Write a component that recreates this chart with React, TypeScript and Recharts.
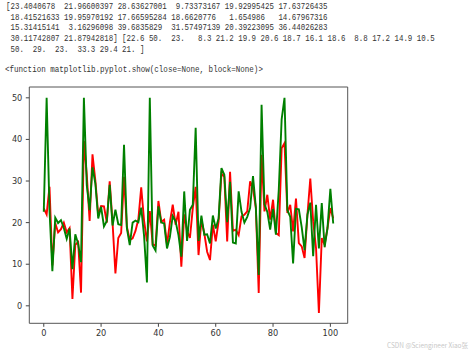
import React from "react";
import { LineChart, Line, XAxis, YAxis, ReferenceArea } from "recharts";

const predicted: number[] = [
  23.4040678, 21.96600397, 28.63627001, 9.73373167, 19.92995425, 17.63726435,
  18.41521633, 19.95970192, 17.66595284, 18.6620776, 1.654986, 14.67967316,
  15.31415141, 3.16296098, 39.6835829, 31.57497139, 20.39223095, 36.44026283,
  30.11742807, 21.87942818,
  24.0, 23.9, 20.0, 29.9, 20.0, 7.8, 16.3, 17.5, 31.0, 19.0,
  15.8, 16.2, 18.0, 20.8, 28.5, 20.5, 15.5, 22.8, 14.8, 14.5,
  25.2, 20.2, 20.7, 14.7, 20.0, 24.3, 19.5, 22.6, 9.4, 22.0,
  18.0, 16.3, 23.5, 28.6, 12.2, 20.5, 17.5, 13.0, 11.0, 19.5,
  15.5, 20.3, 31.8, 31.0, 15.5, 32.2, 18.0, 18.3, 17.0, 21.5,
  21.9, 22.7, 29.9, 28.3, 23.5, 3.1, 36.3, 22.7, 26.7, 20.7,
  25.5, 17.5, 17.0, 37.9, 39.1, 22.3, 24.3, 17.9, 25.8, 15.1,
  14.3, 11.5, 21.9, 30.6, 20.3, 13.9, -1.7, 16.3, 14.7, 18.7,
  23.5, 21.0,
];

const actual: number[] = [
  22.6, 50, 23, 8.3, 21.2, 19.9, 20.6, 18.7, 16.1, 18.6,
  8.8, 17.2, 14.9, 10.5, 50, 29, 23, 33.3, 29.4, 21,
  23.8, 19.1, 20.4, 29.1, 19.3, 23.1, 19.6, 19.4, 38.7, 18.7,
  14.6, 20, 20.5, 20.1, 23.6, 16.8, 5.6, 50, 14.5, 13.3,
  23.9, 20, 19.8, 13.8, 16.5, 21.6, 20.3, 17, 11.8, 27.5,
  15.6, 23.1, 24.3, 42.8, 15.6, 21.7, 17.1, 17.2, 15, 21.7,
  18.6, 21, 33.1, 31.5, 20.1, 29.8, 15.2, 15, 27.5, 22.6,
  20, 21.4, 23.5, 31.2, 23.7, 7.4, 48.3, 24.4, 22.6, 18.3,
  23.3, 17.1, 27.9, 44.8, 50, 23, 21.4, 10.2, 23.3, 23.2,
  18.9, 13.4, 21.9, 24.8, 11.9, 24.3, 13.8, 24.7, 14.1, 18.7,
  28.1, 19.8,
];

const xTicks: number[] = [0, 20, 40, 60, 80, 100];
const yTicks: number[] = [0, 10, 20, 30, 40, 50];

const outputLines: string[] = [
  "[23.4040678  21.96600397 28.63627001  9.73373167 19.92995425 17.63726435",
  " 18.41521633 19.95970192 17.66595284 18.6620776   1.654986   14.67967316",
  " 15.31415141  3.16296098 39.6835829  31.57497139 20.39223095 36.44026283",
  " 30.11742807 21.87942818] [22.6 50.  23.   8.3 21.2 19.9 20.6 18.7 16.1 18.6  8.8 17.2 14.9 10.5",
  " 50.  29.  23.  33.3 29.4 21. ]",
];
const reprLine = "<function matplotlib.pyplot.show(close=None, block=None)>";
const watermark = "CSDN @Sciengineer Xiao张";

const data = actual.map((g, i) => ({ i, red: predicted[i], green: g }));

const CW = 4.47;
const FS = CW / 0.6;
const SY = 1.2;
const X_DOMAIN: [number, number] = [-5.05, 106.05];
const Y_DOMAIN: [number, number] = [-4.2, 52.6];

export default function App() {
  const baselines = [9, 19.7, 30.4, 41.1, 51.8];
  return (
    <div style={{ position: "absolute", left: 0, top: 0, width: 474, height: 352, background: "#fff" }}>
      <svg width={474} height={352} style={{ position: "absolute", left: 0, top: 0 }}>
        <g transform={`scale(1, ${SY})`}>
          {outputLines.map((s, k) => (
            <text
              key={k}
              x={6}
              y={baselines[k] / SY}
              fontFamily="Liberation Mono, monospace"
              fontSize={FS}
              fill="#333"
              style={{ whiteSpace: "pre" }}
            >
              {s}
            </text>
          ))}
          <text
            x={5}
            y={72 / SY}
            fontFamily="Liberation Mono, monospace"
            fontSize={4.53 / 0.6}
            fill="#333"
            style={{ whiteSpace: "pre" }}
          >
            {reprLine}
          </text>
        </g>
        <text
          x={387}
          y={347.5}
          fontFamily="Noto Sans CJK SC, Noto Sans, sans-serif"
          fontSize={7}
          fill="#c8c8c8"
          textLength={81}
          lengthAdjust="spacingAndGlyphs"
        >
          {watermark}
        </text>
      </svg>
      <div style={{ position: "absolute", left: 0, top: 0 }}>
        <LineChart
          width={474}
          height={352}
          data={data}
          margin={{ top: 87, right: 126.3, left: 0, bottom: 0 }}
          style={{ background: "transparent" }}
        >
          <XAxis
            dataKey="i"
            type="number"
            domain={X_DOMAIN}
            ticks={xTicks}
            height={28.7}
            axisLine={false}
            tickLine={{ stroke: "#444" }}
            tickSize={3.5}
            tickMargin={3}
            tick={{ fill: "#333", fontSize: 8.2, fontFamily: "DejaVu Sans" }}
            allowDataOverflow
          />
          <YAxis
            type="number"
            domain={Y_DOMAIN}
            ticks={yTicks}
            width={29.3}
            axisLine={false}
            tickLine={{ stroke: "#444" }}
            tickSize={3.5}
            tickMargin={3.5}
            tick={{ fill: "#333", fontSize: 8.2, fontFamily: "DejaVu Sans" }}
            allowDataOverflow
          />
          <ReferenceArea
            x1={X_DOMAIN[0]}
            x2={X_DOMAIN[1]}
            y1={Y_DOMAIN[0]}
            y2={Y_DOMAIN[1]}
            fill="none"
            stroke="#555"
            strokeWidth={1}
            fillOpacity={0}
          />
          <Line
            dataKey="red"
            type="linear"
            stroke="#ff0000"
            strokeWidth={1.9}
            dot={false}
            isAnimationActive={false}
          />
          <Line
            dataKey="green"
            type="linear"
            stroke="#008000"
            strokeWidth={1.9}
            dot={false}
            isAnimationActive={false}
          />
        </LineChart>
      </div>
    </div>
  );
}
